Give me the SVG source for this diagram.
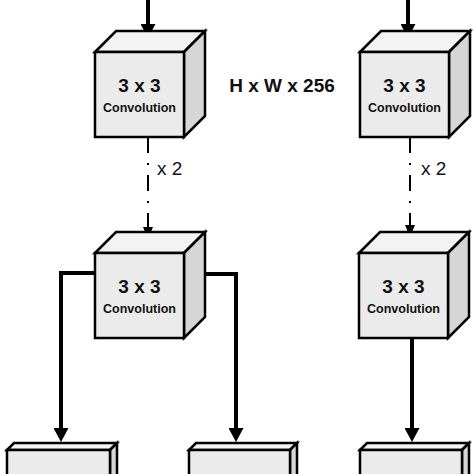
<svg xmlns="http://www.w3.org/2000/svg" width="474" height="474" viewBox="0 0 474 474">
<style>
.front{fill:#ebebeb;stroke:#000;stroke-width:2.5;stroke-linejoin:miter}
.top{fill:#f3f3f3;stroke:#000;stroke-width:2.5;stroke-linejoin:miter}
.side{fill:#d6d6d6;stroke:#000;stroke-width:2.5;stroke-linejoin:miter}
.t1{font-family:"Liberation Sans",Arial,sans-serif;font-weight:bold;font-size:19px;text-anchor:middle;fill:#111}
.t2{font-family:"Liberation Sans",Arial,sans-serif;font-weight:bold;font-size:12.5px;text-anchor:middle;fill:#111}
.lbl{font-family:"Liberation Sans",Arial,sans-serif;font-size:19px;fill:#111}
.thick{stroke:#000;stroke-width:4;fill:none}
.dash{stroke:#000;stroke-width:2;fill:none;stroke-dasharray:16 10 2 10}
</style>
<defs>
<marker id="big" viewBox="0 0 14 15" refX="4" refY="7.5" markerWidth="14" markerHeight="15" markerUnits="userSpaceOnUse" orient="auto">
<path d="M0,0 L14,7.5 L0,15 z" fill="#000"/>
</marker>
<marker id="small" viewBox="0 0 12 10" refX="4" refY="5" markerWidth="12" markerHeight="10" markerUnits="userSpaceOnUse" orient="auto">
<path d="M0,0 L12,5 L0,10 z" fill="#000"/>
</marker>
</defs>
<g id="connectors">
<path class="thick" d="M148,0 V28" marker-end="url(#big)"/>
<path class="thick" d="M408,0 V28" marker-end="url(#big)"/>
<path class="dash" d="M148,137 V231"/>
<path d="M148,229 V231" stroke="#000" stroke-width="2" marker-end="url(#small)"/>
<path class="dash" d="M410,137 V229"/>
<path d="M410,227 V229" stroke="#000" stroke-width="2" marker-end="url(#small)"/>
<path class="thick" d="M95,273 H61 V432" marker-end="url(#big)"/>
<path class="thick" d="M204,274 H236 V432" marker-end="url(#big)"/>
<path class="thick" d="M412,337 V432" marker-end="url(#big)"/>
</g>
<g id="label-hw">
<text class="t1" x="282" y="92">H x W x 256</text>
</g>
<g id="label-x2-left"><text class="lbl" x="157" y="175">x 2</text></g>
<g id="label-x2-right"><text class="lbl" x="421" y="175">x 2</text></g>
<g id="conv1">
<polygon class="top" points="95,52 116,31 205,31 184,52"/>
<polygon class="side" points="184,52 205,31 205,116 184,137"/>
<rect class="front" x="95" y="52" width="89" height="85"/>
<text class="t1" x="139.5" y="92">3 x 3</text>
<text class="t2" x="139.5" y="112">Convolution</text>
</g>
<g id="conv2">
<polygon class="top" points="95,253 116,232 205,232 184,253"/>
<polygon class="side" points="184,253 205,232 205,317 184,338"/>
<rect class="front" x="95" y="253" width="89" height="85"/>
<text class="t1" x="139.5" y="293">3 x 3</text>
<text class="t2" x="139.5" y="313">Convolution</text>
</g>
<g id="conv3">
<polygon class="top" points="360,52 381,31 470,31 449,52"/>
<polygon class="side" points="449,52 470,31 470,116 449,137"/>
<rect class="front" x="360" y="52" width="89" height="85"/>
<text class="t1" x="404.5" y="92">3 x 3</text>
<text class="t2" x="404.5" y="112">Convolution</text>
</g>
<g id="conv4">
<polygon class="top" points="359,253 380,232 469,232 448,253"/>
<polygon class="side" points="448,253 469,232 469,317 448,338"/>
<rect class="front" x="359" y="253" width="89" height="85"/>
<text class="t1" x="403.5" y="293">3 x 3</text>
<text class="t2" x="403.5" y="313">Convolution</text>
</g>
<g id="out1">
<polygon class="top" points="7,450 14,443 117,443 110,450"/>
<polygon class="side" points="110,450 117,443 117,480 110,480"/>
<rect class="front" x="7" y="450" width="103" height="30"/>
</g>
<g id="out2">
<polygon class="top" points="189,450 196,443 297,443 290,450"/>
<polygon class="side" points="290,450 297,443 297,480 290,480"/>
<rect class="front" x="189" y="450" width="101" height="30"/>
</g>
<g id="out3">
<polygon class="top" points="360,450 367,443 469,443 462,450"/>
<polygon class="side" points="462,450 469,443 469,480 462,480"/>
<rect class="front" x="360" y="450" width="102" height="30"/>
</g>
</svg>
